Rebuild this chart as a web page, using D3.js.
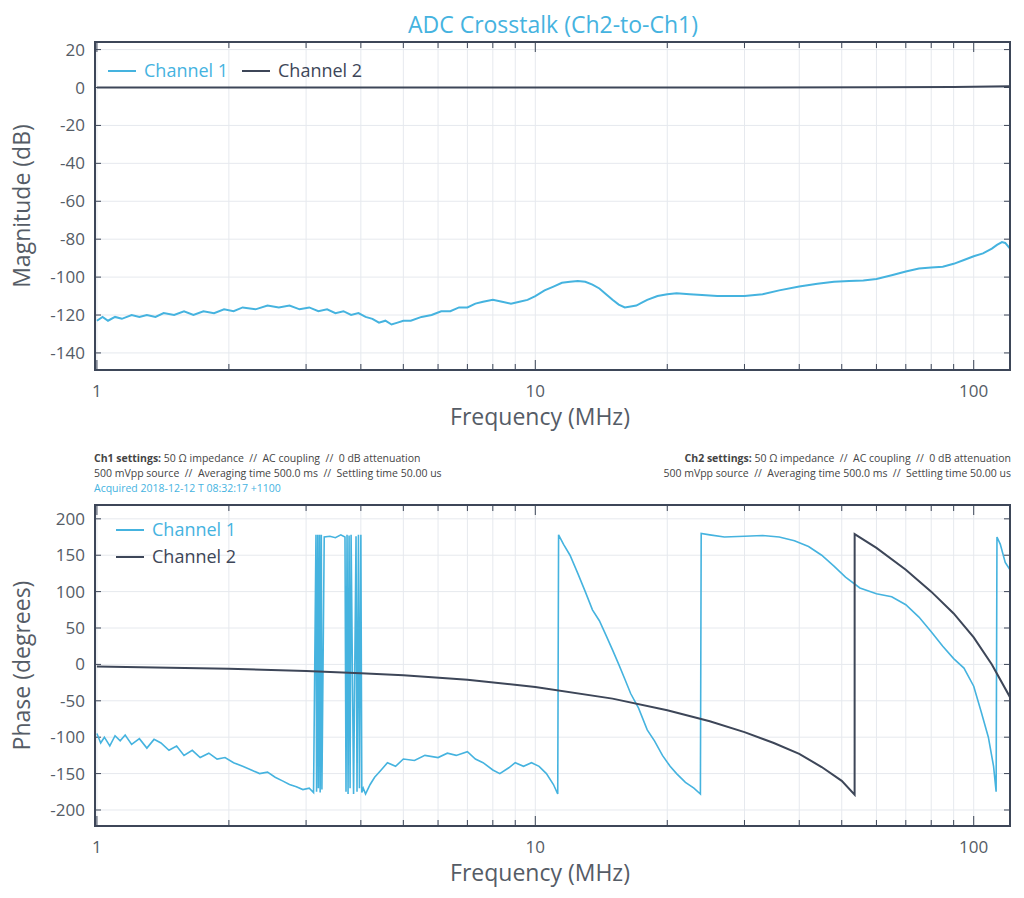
<!DOCTYPE html>
<html><head><meta charset="utf-8">
<script src="https://cdn.jsdelivr.net/npm/d3@7"></script>
<style>body{margin:0;background:#fff;font-family:"Open Sans",Lato,sans-serif} text{white-space:pre}</style>
</head><body><svg id="c" width="1024" height="898"></svg>
<script>
const xTickLabels = [1, 10, 100];
const magTicks = [20, 0, -20, -40, -60, -80, -100, -120, -140];
const phaseTicks = [200, 150, 100, 50, 0, -50, -100, -150, -200];

const magFreq1 = [1,1.03,1.06,1.1,1.14,1.2,1.25,1.3,1.36,1.42,1.5,1.58,1.66,1.75,1.85,1.95,2.05,2.15,2.3,2.45,2.6,2.75,2.9,3.05,3.2,3.35,3.5,3.65,3.8,3.95,4.1,4.25,4.4,4.55,4.7,4.85,5,5.2,5.5,5.8,6.1,6.4,6.7,7,7.3,7.6,8,8.4,8.8,9.2,9.6,10,10.5,11,11.5,12,12.5,13,13.5,14,14.5,15,15.5,16,16.5,17,17.5,18,19,20,21,22.5,24,26,28,30,33,36,40,44,48,52,56,60,65,70,75,80,85,90,95,100,105,110,113,116,118,121];
const magVal1 = [-123,-121,-123,-121,-122,-120,-121,-120,-121,-119,-120,-118,-120,-118,-119,-117,-118,-116,-117,-115,-116,-115,-117,-116,-118,-117,-119,-118,-120,-119,-121,-122,-124,-123,-125,-124,-123,-123,-121,-120,-118,-118,-116,-116,-114,-113,-112,-113,-114,-113,-112,-110,-107,-105,-103,-102.5,-102,-102.5,-104,-106,-109,-112,-114.5,-116,-115.5,-115,-113.5,-112,-110,-109,-108.5,-109,-109.5,-110,-110,-110,-109,-107,-105,-103.5,-102.5,-102,-101.8,-101,-99,-97,-95.5,-95,-94.5,-93,-91,-89,-87.5,-85,-83,-81.5,-82,-85];
const magFreq2 = [1,10,30,60,90,121];
const magVal2 = [0,0,0,0.1,0.3,0.6];

const phFreq1 = [1,1.02,1.04,1.07,1.1,1.13,1.16,1.2,1.25,1.3,1.35,1.4,1.46,1.52,1.58,1.65,1.72,1.8,1.88,1.96,2.05,2.15,2.25,2.35,2.45,2.55,2.65,2.75,2.85,2.95,3.05,3.12,3.16,3.17,3.19,3.2,3.22,3.23,3.25,3.26,3.3,3.4,3.5,3.6,3.68,3.7,3.72,3.74,3.76,3.78,3.8,3.85,3.9,3.92,3.95,3.97,4.0,4.02,4.05,4.1,4.2,4.3,4.45,4.6,4.8,5.0,5.3,5.6,6.0,6.3,6.6,7.0,7.3,7.6,8.0,8.3,8.7,9.0,9.4,9.8,10.2,10.6,11.0,11.25,11.3,11.6,12,12.5,13,13.5,14,14.5,15,15.5,16,16.5,17.2,18,18.7,19.5,20.3,21,22,23,23.8,23.9,25,27,30,33,36,39,42,45,48,51,55,60,65,70,75,80,85,90,95,100,104,108,111,112.5,113,115,118,121];
const phVal1 = [-95,-108,-100,-112,-98,-105,-97,-110,-102,-115,-103,-108,-118,-112,-125,-118,-128,-122,-130,-128,-135,-140,-145,-150,-148,-155,-160,-165,-168,-172,-170,-176,178,-175,178,-170,178,-176,178,-172,175,176,174,178,175,-175,178,-178,177,-170,178,-178,176,-175,178,-170,178,-176,-170,-178,-165,-155,-145,-135,-140,-130,-132,-125,-128,-122,-125,-120,-130,-135,-145,-150,-142,-135,-140,-135,-140,-150,-165,-178,178,165,150,125,100,75,60,40,20,0,-20,-40,-60,-90,-105,-125,-140,-150,-162,-170,-178,180,178,175,176,177,175,170,162,150,135,120,105,97,93,82,65,45,25,8,-5,-30,-65,-100,-140,-175,175,165,140,130];
const phFreq2 = [1,2,3,4,5,7,10,15,20,25,30,35,40,45,50,53.5,53.51,60,70,80,90,100,110,121];
const phVal2 = [-3,-6,-9,-12,-15,-21,-31,-47,-63,-78,-93,-108,-123,-141,-160,-179,179,160,130,100,70,37,0,-45];

const C1 = "#45b3df", C2 = "#3d4658", GRID = "#e6e9ee", TXT = "#555c66";
const svg = d3.select("#c");
const x = d3.scaleLog().domain([0.99, 121]).range([95, 1010]);
const minor = [];
for (let d = 1; d <= 100; d *= 10) for (let k = 1; k <= 9; k++) if (d*k <= 121) minor.push(d*k);

svg.append("text").attr("x", 553).attr("y", 33).attr("text-anchor","middle")
  .attr("font-size", 23).attr("fill", C1).text("ADC Crosstalk (Ch2-to-Ch1)");

function panel(top, bottom, ydom, yt, series, legendVertical, ylab) {
  const y = d3.scaleLinear().domain(ydom).range([bottom, top]);
  const g = svg.append("g");
  g.selectAll(".gx").data(minor).join("line").attr("x1", d=>x(d)).attr("x2", d=>x(d))
    .attr("y1", top).attr("y2", bottom).attr("stroke", GRID);
  g.selectAll(".gy").data(yt).join("line").attr("x1", 95).attr("x2", 1010)
    .attr("y1", d=>y(d)).attr("y2", d=>y(d)).attr("stroke", GRID);
  g.selectAll(".tb").data(minor).join("line").attr("x1", d=>x(d)).attr("x2", d=>x(d))
    .attr("y1", bottom).attr("y2", d=> bottom - (xTickLabels.includes(d)?10:6)).attr("stroke", C2);
  g.selectAll(".tt").data(minor).join("line").attr("x1", d=>x(d)).attr("x2", d=>x(d))
    .attr("y1", top).attr("y2", d=> top + (xTickLabels.includes(d)?10:6)).attr("stroke", C2);
  g.selectAll(".tl").data(yt).join("line").attr("x1", 95).attr("x2", 101)
    .attr("y1", d=>y(d)).attr("y2", d=>y(d)).attr("stroke", C2);
  g.selectAll(".tr").data(yt).join("line").attr("x1", 1004).attr("x2", 1010)
    .attr("y1", d=>y(d)).attr("y2", d=>y(d)).attr("stroke", C2);
  const clipId = "clip" + top;
  svg.append("clipPath").attr("id", clipId).append("rect").attr("x",95).attr("y",top).attr("width",915).attr("height",bottom-top);
  const line = d3.line().x(d=>x(d[0])).y(d=>y(d[1]));
  series.forEach(s => {
    g.append("path").attr("clip-path", `url(#${clipId})`)
      .attr("d", line(d3.zip(s.f, s.v))).attr("fill","none").attr("stroke", s.c).attr("stroke-width", s.w);
  });
  g.append("rect").attr("x",95).attr("y",top).attr("width",915).attr("height",bottom-top)
    .attr("fill","none").attr("stroke",C2).attr("stroke-width",2);
  g.selectAll(".yl").data(yt).join("text").attr("x", 85).attr("y", d=>y(d)+6).attr("text-anchor","end")
    .attr("font-size", 17).attr("fill", TXT).text(d=>d);
  g.selectAll(".xl").data(xTickLabels).join("text").attr("x", d=>x(d)).attr("y", bottom+27).attr("text-anchor","middle")
    .attr("font-size", 17).attr("fill", TXT).text(d=>d);
  g.append("text").attr("x", 540).attr("y", bottom+55).attr("text-anchor","middle").attr("font-size",23).attr("fill",TXT).text("Frequency (MHz)");
  g.append("text").attr("transform", `translate(30,${(top+bottom)/2}) rotate(-90)`).attr("text-anchor","middle")
    .attr("font-size",23).attr("fill",TXT).text(ylab);
  const names = ["Channel 1", "Channel 2"];
  names.forEach((n, i) => {
    const lx = legendVertical ? 116 : (i===0?108:242), ly = legendVertical ? 530 + i*27 : 71;
    g.append("line").attr("x1", lx).attr("x2", lx + 28).attr("y1", ly).attr("y2", ly)
      .attr("stroke", series[i].c).attr("stroke-width", 2);
    g.append("text").attr("x", lx + 36).attr("y", ly+6).attr("font-size", 18)
      .attr("fill", i===0?C1:C2).text(n);
  });
}

panel(42, 370, [-149, 24], magTicks,
  [{f:magFreq1, v:magVal1, c:C1, w:2}, {f:magFreq2, v:magVal2, c:C2, w:2}], false, "Magnitude (dB)");
panel(505, 826, [-222, 219], phaseTicks,
  [{f:phFreq1, v:phVal1, c:C1, w:1.6}, {f:phFreq2, v:phVal2, c:C2, w:2}], true, "Phase (degrees)");

const info = svg.append("g").attr("font-size", 10.5).attr("fill", "#444");
const t1 = info.append("text").attr("x", 94).attr("y", 462);
t1.append("tspan").attr("font-weight","bold").text("Ch1 settings:");
t1.append("tspan").text(" 50 Ω impedance  //  AC coupling  //  0 dB attenuation");
info.append("text").attr("x", 94).attr("y", 477).text("500 mVpp source  //  Averaging time 500.0 ms  //  Settling time 50.00 us");
info.append("text").attr("x", 94).attr("y", 492).attr("fill", C1).text("Acquired 2018-12-12 T 08:32:17 +1100");
const t2 = info.append("text").attr("x", 1011).attr("y", 462).attr("text-anchor","end");
t2.append("tspan").attr("font-weight","bold").text("Ch2 settings:");
t2.append("tspan").text(" 50 Ω impedance  //  AC coupling  //  0 dB attenuation");
info.append("text").attr("x", 1011).attr("y", 477).attr("text-anchor","end").text("500 mVpp source  //  Averaging time 500.0 ms  //  Settling time 50.00 us");
</script></body></html>
